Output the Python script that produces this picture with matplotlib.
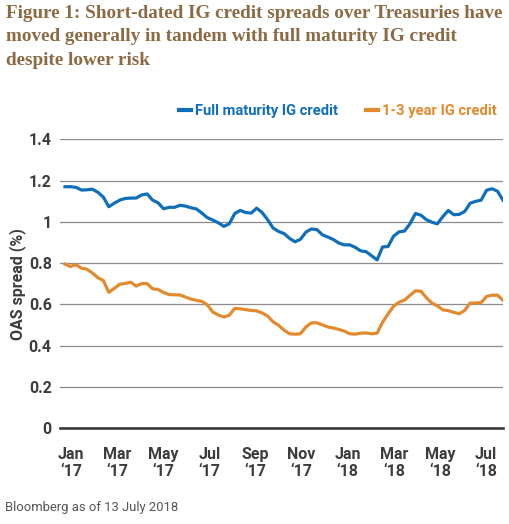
import matplotlib
matplotlib.use('Agg')
import matplotlib.pyplot as plt
import numpy as np
##########################################################################
#
#                      GENERAL
#
##########################################################################
# Style
#-------------------------------------------------------------------------
plt.rcParams['font.family'] = ['Roboto', 'DejaVu Sans']

w, h = 5.09, 5.24
rs   = 100

ttle = ('Figure 1: Short-dated IG credit spreads over Treasuries have\n'
        'moved generally in tandem with full maturity IG credit\n'
        'despite lower risk')
yn   = 'OAS spread (%)'
src  = 'Bloomberg as of 13 July 2018'
legnd = ['Full maturity IG credit', '1-3 year IG credit']

c_full = '#0f6fba'
c_shrt = '#e38a2e'
c_ttl  = '#8c6a43'
c_txt  = '#3c3c3c'

# Axises
ymin, ymax = 0, 1.4
y_lim      = [0, 0.2, 0.4, 0.6, 0.8, 1, 1.2, 1.4]
y_lbl      = ['0', '0.2', '0.4', '0.6', '0.8', '1', '1.2', '1.4']
x_lbl      = ['Jan\n\u201817', 'Mar\n\u201817', 'May\n\u201817', 'Jul\n\u201817',
              'Sep\n\u201817', 'Nov\n\u201817', 'Jan\n\u201818', 'Mar\n\u201818',
              'May\n\u201818', 'Jul\n\u201818']
##########################################################################
#
#                      DATA (weekly, Jan 2017 - 13 Jul 2018)
#
##########################################################################
full_ig = [1.170, 1.170, 1.167, 1.154, 1.155, 1.158, 1.143, 1.120, 1.073, 1.090,
           1.105, 1.113, 1.115, 1.115, 1.130, 1.135, 1.105, 1.092, 1.063, 1.070,
           1.070, 1.080, 1.076, 1.068, 1.062, 1.042, 1.020, 1.008, 0.995, 0.978,
           0.990, 1.040, 1.055, 1.045, 1.042, 1.066, 1.045, 1.010, 0.970, 0.953,
           0.943, 0.920, 0.903, 0.915, 0.950, 0.965, 0.962, 0.937, 0.926, 0.914,
           0.897, 0.888, 0.888, 0.876, 0.859, 0.855, 0.835, 0.815, 0.878, 0.880,
           0.930, 0.951, 0.955, 0.990, 1.040, 1.032, 1.010, 0.998, 0.990, 1.025,
           1.055, 1.034, 1.036, 1.050, 1.090, 1.099, 1.105, 1.153, 1.160, 1.148,
           1.104]
short_ig = [0.795, 0.783, 0.792, 0.775, 0.770, 0.752, 0.729, 0.715, 0.658, 0.677,
            0.697, 0.701, 0.707, 0.688, 0.700, 0.700, 0.675, 0.672, 0.657, 0.647,
            0.646, 0.645, 0.635, 0.625, 0.619, 0.614, 0.597, 0.562, 0.548, 0.538,
            0.547, 0.580, 0.578, 0.574, 0.570, 0.568, 0.558, 0.543, 0.515, 0.498,
            0.475, 0.457, 0.455, 0.457, 0.490, 0.510, 0.510, 0.500, 0.490, 0.485,
            0.478, 0.470, 0.457, 0.455, 0.460, 0.461, 0.457, 0.460, 0.513, 0.553,
            0.590, 0.610, 0.620, 0.643, 0.665, 0.663, 0.632, 0.606, 0.592, 0.573,
            0.569, 0.561, 0.554, 0.570, 0.606, 0.606, 0.608, 0.638, 0.644, 0.644,
            0.619]

wk = np.arange(len(full_ig))
# label every ~8.4 weeks, as in the source chart
x_pos = 1.1 + 8.42 * np.arange(len(x_lbl))
##########################################################################
#
#                      PLOTTING
#
##########################################################################
figr = plt.figure(figsize=(w, h), dpi=rs)
ax = figr.add_axes([0.118, 0.1832, 0.8703, 0.551])

ax.plot(wk, full_ig, c=c_full, lw=2.3, label=legnd[0], solid_joinstyle='round')
ax.plot(wk, short_ig, c=c_shrt, lw=2.3, label=legnd[1], solid_joinstyle='round')

ax.set_xlim(-0.9, 80)
ax.set_ylim(ymin, ymax)
ax.set_yticks(y_lim)
ax.set_yticklabels(y_lbl)
ax.set_xticks(x_pos)
ax.set_xticklabels(x_lbl, linespacing=1.15)

for s in ax.spines.values():
    s.set_visible(False)
ax.tick_params(axis='both', length=0, colors=c_txt, labelsize=11.5)
ax.tick_params(axis='y', pad=6)
ax.tick_params(axis='x', pad=14)
for t in ax.get_xticklabels() + ax.get_yticklabels():
    t.set_fontweight('bold')

ax.yaxis.grid(True, color='#8c8c8c', lw=0.9)
ax.set_axisbelow(True)
ax.axhline(0, color='#3a3a3a', lw=1.9, clip_on=False, zorder=3)

ax.set_ylabel(yn, fontsize=11.5, fontweight='bold', color=c_txt, labelpad=2)

#-------------------------------------------------------------------------
# Legend and titles
#-------------------------------------------------------------------------
lg = ax.legend(loc='lower right', bbox_to_anchor=(1.016, 1.029), ncol=2,
               frameon=False, handlelength=0.8, handletextpad=0.3,
               columnspacing=1.9, labelcolor='linecolor',
               prop={'size': 10.6, 'weight': 'bold'})
for l in lg.get_lines():
    l.set_linewidth(3)

figr.text(0.012, 0.990, ttle, ha='left', va='top', fontsize=13.8,
          fontweight='bold', color=c_ttl, family='Liberation Serif',
          linespacing=1.48)
figr.text(0.010, 0.020, src, ha='left', va='bottom', fontsize=9.4,
          color='#555555')

figr.savefig('out.png', dpi=rs)
